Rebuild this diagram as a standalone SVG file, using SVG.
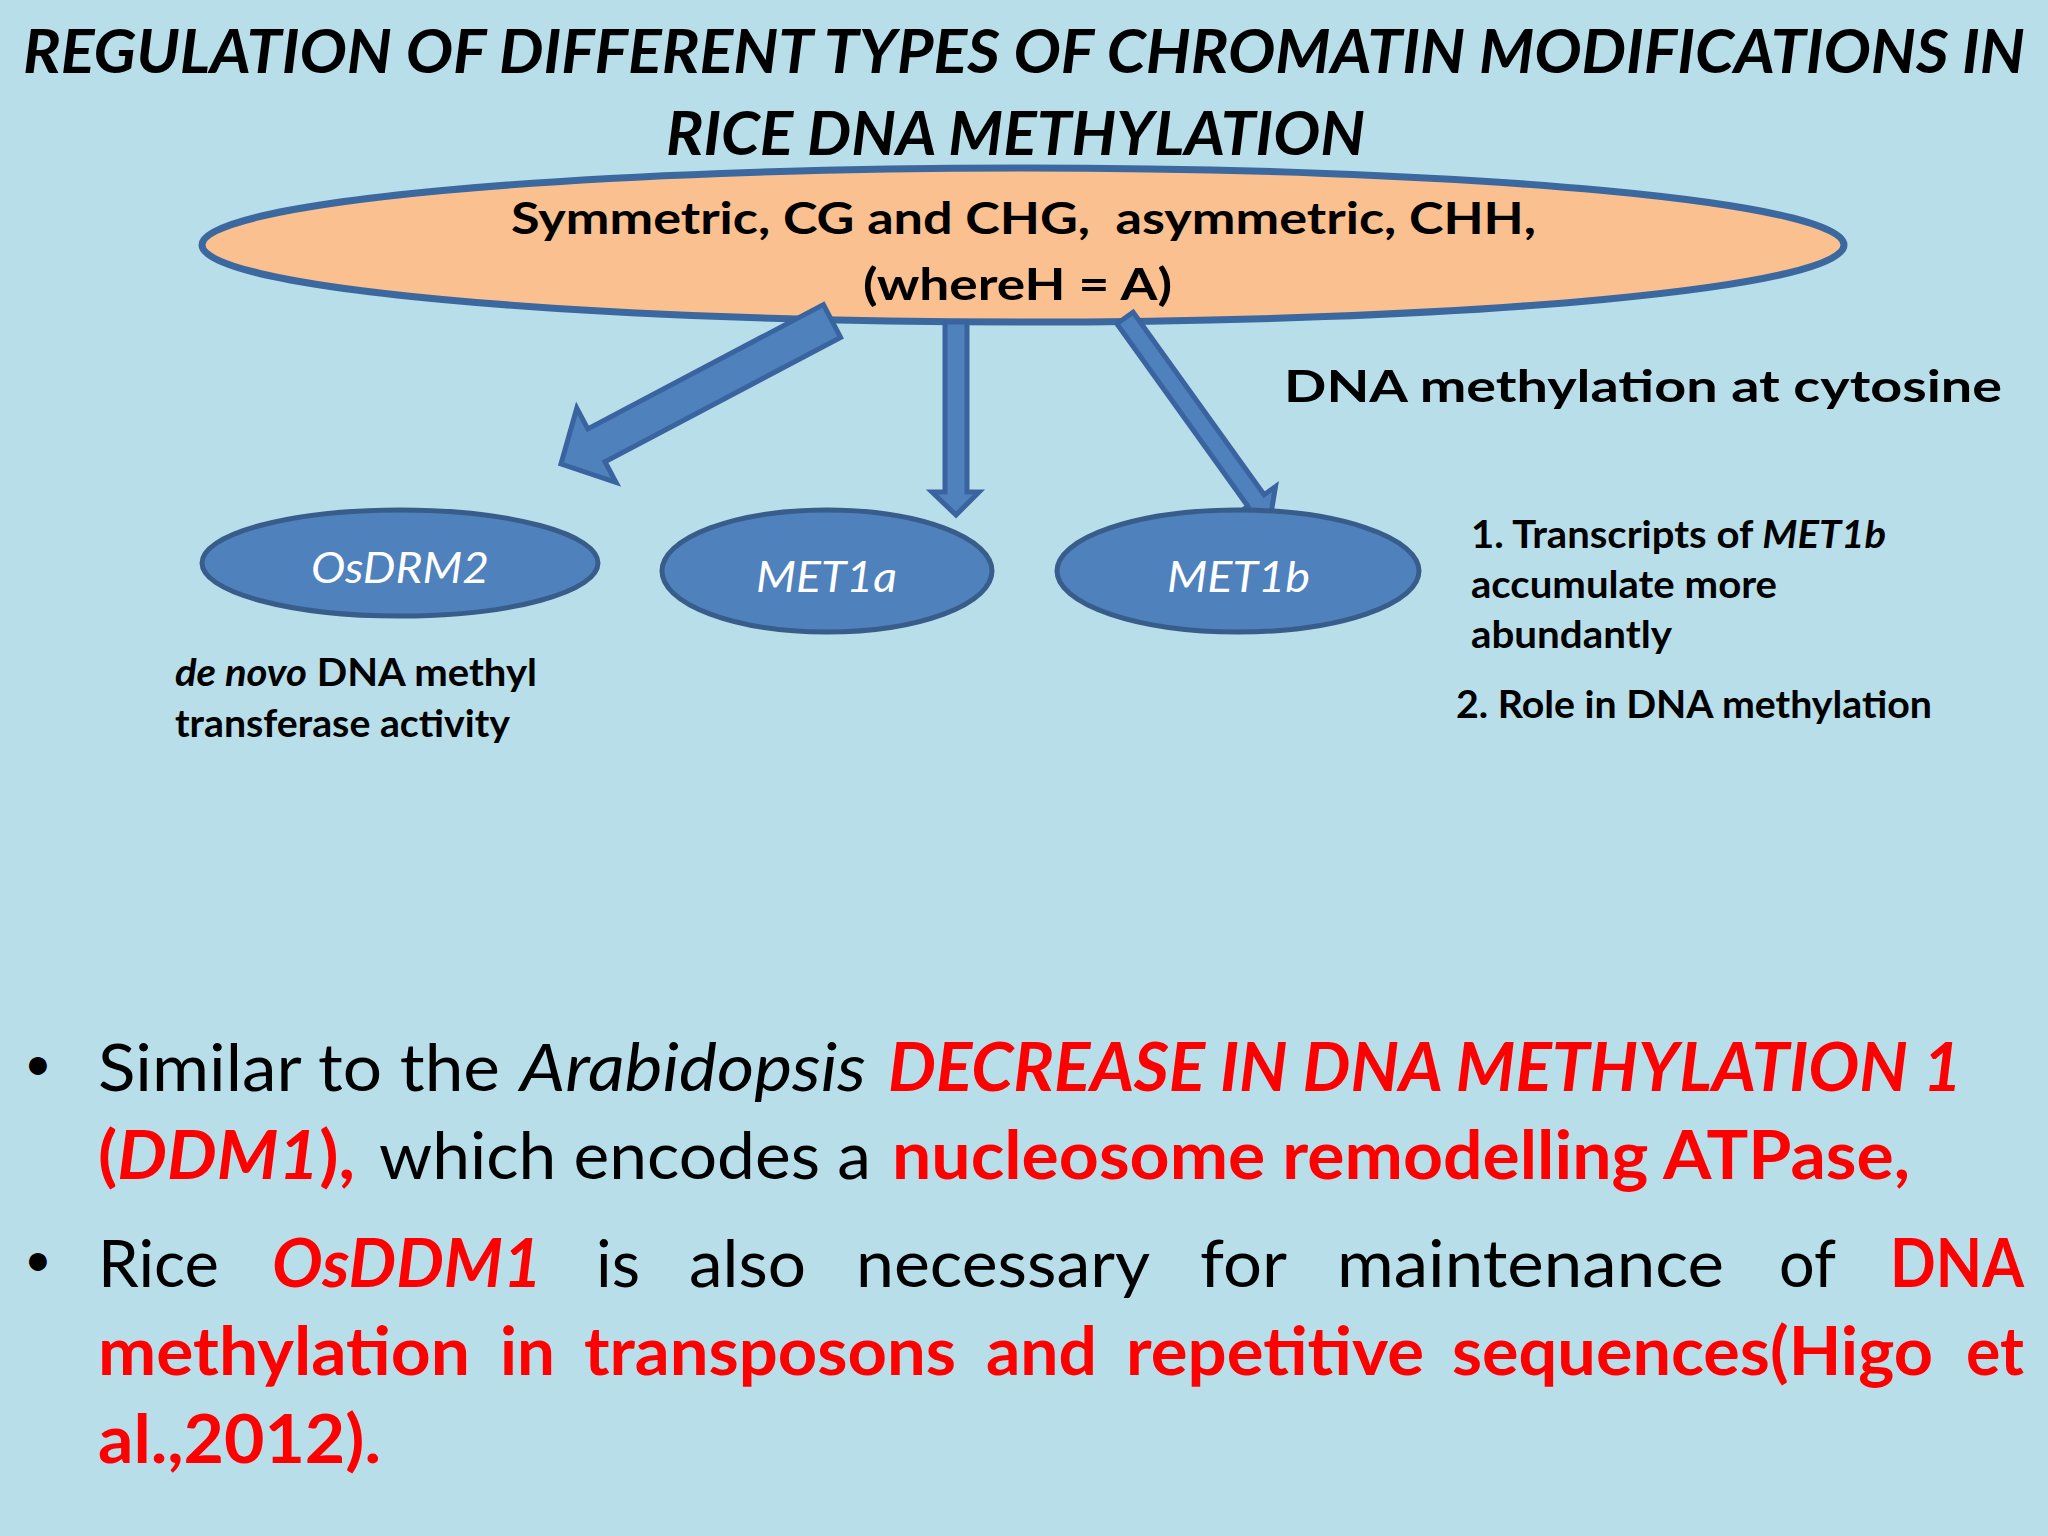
<svg xmlns="http://www.w3.org/2000/svg" width="2048" height="1536" viewBox="0 0 2048 1536">
<style>
text{font-family:Lato,"Open Sans","Liberation Sans",sans-serif;}
.title{font-size:62px;font-weight:bold;font-style:italic;fill:#000;}
.ell{font-size:44px;font-weight:bold;fill:#000;}
.node{font-size:42px;font-style:italic;fill:#fff;}
.note{font-size:38px;font-weight:bold;fill:#000;}
.big{font-size:44px;font-weight:bold;fill:#000;}
.b{font-size:66px;fill:#000;}
.r{fill:#ff0000;font-weight:bold;}
.i{font-style:italic;}
.arrow{fill:#4f81bd;stroke:#3a64a0;stroke-width:5;stroke-linejoin:miter;}
.blue{fill:#4f81bd;stroke:#385d8a;stroke-width:5;}
</style>
<rect width="2048" height="1536" fill="#b8dee9"/>
<g id="title">
<text class="title" x="23" y="73" textLength="2002" lengthAdjust="spacingAndGlyphs">REGULATION OF DIFFERENT TYPES OF CHROMATIN MODIFICATIONS IN</text>
<text class="title" x="666" y="155" textLength="699" lengthAdjust="spacingAndGlyphs">RICE DNA METHYLATION</text>
</g>
<g id="node-top">
<ellipse cx="1023" cy="245" rx="821" ry="77" fill="#fac090" stroke="#3c68a0" stroke-width="7"/>
<text class="ell" x="511" y="234" textLength="1025" lengthAdjust="spacingAndGlyphs" xml:space="preserve">Symmetric, CG and CHG,  asymmetric, CHH,</text>
<text class="ell" x="863" y="300" textLength="309" lengthAdjust="spacingAndGlyphs">(whereH = A)</text>
</g>
<g id="connectors">
<polygon class="arrow" points="823.4,304.6 587.8,428.9 576.8,408.2 561,464 616,482.4 605,461.7 840.6,337.4"/>
<polygon class="arrow" points="945,322 967,322 967,492 979,492 956,515 932,492 945,492"/>
<polygon class="arrow" points="1133.1,312.2 1264.1,494.7 1275.5,486.5 1270,520 1236.5,514.5 1247.9,506.3 1116.9,323.8"/>
</g>
<g id="node-osdrm2">
<ellipse class="blue" cx="400" cy="563" rx="198" ry="53"/>
<text class="node" x="311" y="583" textLength="178" lengthAdjust="spacingAndGlyphs">OsDRM2</text>
</g>
<g id="node-met1a">
<ellipse class="blue" cx="827" cy="571" rx="165" ry="61"/>
<text class="node" x="756" y="592" textLength="141" lengthAdjust="spacingAndGlyphs">MET1a</text>
</g>
<g id="node-met1b">
<ellipse class="blue" cx="1238" cy="571" rx="181" ry="61"/>
<text class="node" x="1167" y="592" textLength="143" lengthAdjust="spacingAndGlyphs">MET1b</text>
</g>
<g id="labels">
<text class="big" x="1284" y="402" textLength="718" lengthAdjust="spacingAndGlyphs">DNA methylation at cytosine</text>
<text class="note" x="1471" y="548" textLength="415" lengthAdjust="spacingAndGlyphs">1. Transcripts of <tspan class="i">MET1b</tspan></text>
<text class="note" x="1471" y="598" textLength="306" lengthAdjust="spacingAndGlyphs">accumulate more</text>
<text class="note" x="1471" y="648" textLength="201" lengthAdjust="spacingAndGlyphs">abundantly</text>
<text class="note" x="1456" y="718" textLength="476" lengthAdjust="spacingAndGlyphs">2. Role in DNA methylation</text>
<text class="note" x="175" y="686" textLength="362" lengthAdjust="spacingAndGlyphs"><tspan class="i">de novo</tspan> DNA methyl</text>
<text class="note" x="175" y="737" textLength="335" lengthAdjust="spacingAndGlyphs">transferase activity</text>
</g>
<g id="bullets">
<text class="b" x="24" y="1080" style="font-size:48px">•</text>
<text class="b" x="24" y="1276" style="font-size:48px">•</text>
<text class="b" x="98" y="1091" textLength="402" lengthAdjust="spacingAndGlyphs">Similar to the</text>
<text class="b i" x="520" y="1091" textLength="346" lengthAdjust="spacingAndGlyphs">Arabidopsis</text>
<text class="b r i" x="888" y="1091" textLength="1074" lengthAdjust="spacingAndGlyphs">DECREASE IN DNA METHYLATION 1</text>
<text class="b r" x="98" y="1179" textLength="257" lengthAdjust="spacingAndGlyphs">(<tspan class="i">DDM1</tspan>),</text>
<text class="b" x="379" y="1179" textLength="492" lengthAdjust="spacingAndGlyphs">which encodes a</text>
<text class="b r" x="892" y="1179" textLength="1018" lengthAdjust="spacingAndGlyphs">nucleosome remodelling ATPase,</text>
<text class="b" x="98" y="1287" textLength="121" lengthAdjust="spacingAndGlyphs">Rice</text>
<text class="b r i" x="272" y="1287" textLength="270" lengthAdjust="spacingAndGlyphs">OsDDM1</text>
<text class="b" x="596" y="1287" textLength="44" lengthAdjust="spacingAndGlyphs">is</text>
<text class="b" x="689" y="1287" textLength="117" lengthAdjust="spacingAndGlyphs">also</text>
<text class="b" x="856" y="1287" textLength="294" lengthAdjust="spacingAndGlyphs">necessary</text>
<text class="b" x="1200" y="1287" textLength="87" lengthAdjust="spacingAndGlyphs">for</text>
<text class="b" x="1337" y="1287" textLength="387" lengthAdjust="spacingAndGlyphs">maintenance</text>
<text class="b" x="1779" y="1287" textLength="57" lengthAdjust="spacingAndGlyphs">of</text>
<text class="b r" x="1890" y="1287" textLength="134" lengthAdjust="spacingAndGlyphs">DNA</text>
<text class="b r" x="98" y="1375" textLength="372" lengthAdjust="spacingAndGlyphs">methylation</text>
<text class="b r" x="500" y="1375" textLength="55" lengthAdjust="spacingAndGlyphs">in</text>
<text class="b r" x="584" y="1375" textLength="372" lengthAdjust="spacingAndGlyphs">transposons</text>
<text class="b r" x="986" y="1375" textLength="111" lengthAdjust="spacingAndGlyphs">and</text>
<text class="b r" x="1126" y="1375" textLength="298" lengthAdjust="spacingAndGlyphs">repetitive</text>
<text class="b r" x="1452" y="1375" textLength="481" lengthAdjust="spacingAndGlyphs">sequences(Higo</text>
<text class="b r" x="1966" y="1375" textLength="58" lengthAdjust="spacingAndGlyphs">et</text>
<text class="b r" x="98" y="1463" textLength="283" lengthAdjust="spacingAndGlyphs">al.,2012).</text>
</g>
</svg>
